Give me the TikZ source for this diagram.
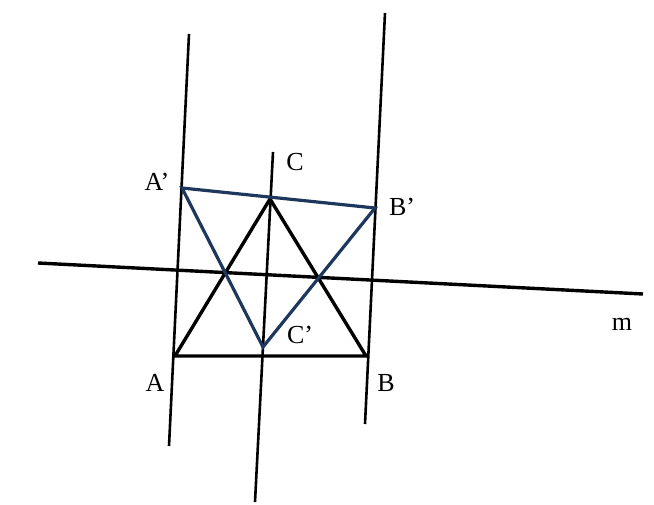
\documentclass[tikz,border=0pt]{standalone}
\usepackage{fontspec}
\setmainfont{Liberation Serif}
\usetikzlibrary{positioning}
\definecolor{navy}{RGB}{30,55,92}
\begin{document}
\begin{tikzpicture}[x=1pt,y=-1pt,
    line/.style={line width=3.4pt},
    thinline/.style={line width=2.6pt},
    imgline/.style={line width=3.2pt,draw=navy},
    lbl/.style={font=\fontsize{26}{26}\selectfont,inner sep=0pt}]
        \useasboundingbox (0,0) rectangle (654,505);

        % points of the figure
        \coordinate (A) at (175,356);
        \coordinate (B) at (366,356);
        \coordinate (C) at (270,199);
        \coordinate (A1) at (182,188);
        \coordinate (B1) at (375,208);
        \coordinate (C1) at (263,347);

        % the line m
        \coordinate (m_s) at (38,263);
        \coordinate (m_e) at (643,294);
        \draw[line] (m_s) -- (m_e);

        % parallel lines through the points
        \draw[thinline] (189,34) coordinate (l_1) -- (169,446) coordinate (l_2);
        \draw[thinline] (273,152) coordinate (c_1) -- (255,502) coordinate (c_2);
        \draw[thinline] (385,13) coordinate (r_1) -- (365,424) coordinate (r_2);

        % triangles
        \draw[line,line join=miter] (A) -- (B) -- (C) -- cycle;
        \draw[imgline,line join=miter] (A1) -- (B1) -- (C1) -- cycle;

        % labels
        \node[lbl] (lA1) at (157,182) {A’};
        \node[lbl] (lC) at (295,162) {C};
        \node[lbl] (lB1) at (402,207) {B’};
        \node[lbl] (lC1) at (300,335) {C’};
        \node[lbl] (lA) at (155,383) {A};
        \node[lbl] (lB) at (386,383) {B};
        \node[lbl] (lm) at (622,324) {m};
    \end{tikzpicture}
\end{document}
